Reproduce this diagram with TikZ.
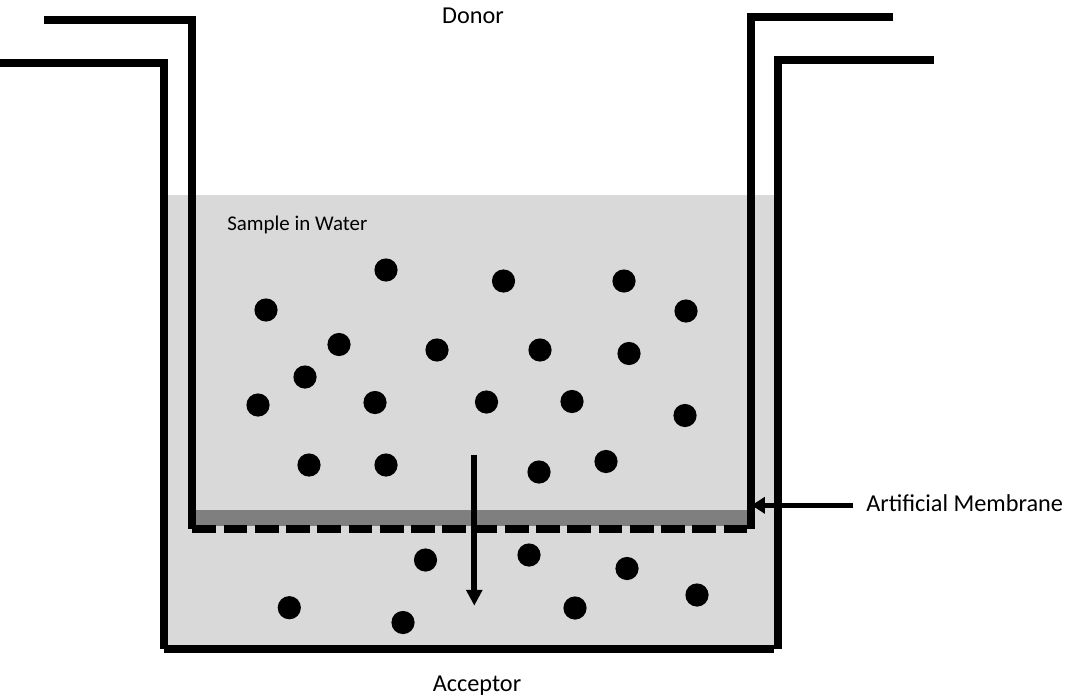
\documentclass[tikz,border=0pt]{standalone}
\usepackage{fontspec}
\setmainfont{Carlito}
\usepackage{tikz}
\usetikzlibrary{arrows.meta, positioning}
\definecolor{waterbg}{RGB}{217,217,217}
\definecolor{membranebg}{RGB}{127,127,127}
\tikzset{
  wallline/.style={
    draw=black, line width=6pt, line join=miter
  },
  poreline/.style={
    draw=black, line width=6pt,
    dash pattern=on 17.81pt off 5.63pt
  },
  particle/.style={
    circle, fill=black, minimum size=17.4pt, inner sep=0pt
  },
  fluxarrow/.style={
    -{Triangle[length=11.8pt,width=11.6pt]},
    draw=black, line width=4.4pt
  },
  leaderarrow/.style={
    -{Triangle[length=10pt,width=12pt]},
    draw=black, line width=4.2pt
  },
  celllabel/.style={
    font=\fontsize{18.2pt}{21pt}\selectfont, inner sep=0pt
  },
  samplelabel/.style={
    font=\fontsize{15.7pt}{19pt}\selectfont, inner sep=0pt
  },
}
\begin{document}
\begin{tikzpicture}[x=0.75pt, y=-0.75pt]
  \useasboundingbox (0,0) rectangle (1065,699);

  %% Liquid
  \fill[waterbg] (167.5,195) rectangle (773.7,645.3);
  \fill[membranebg] (196,510) rectangle (747.5,525.5);

  %% Particles in donor
  \node[particle] (d1) at (386,270) {};
  \node[particle] (d2) at (503.5,281) {};
  \node[particle] (d3) at (624,281) {};
  \node[particle] (d4) at (266,310) {};
  \node[particle] (d5) at (686,311) {};
  \node[particle] (d6) at (339,344.5) {};
  \node[particle] (d7) at (437,350) {};
  \node[particle] (d8) at (540,350) {};
  \node[particle] (d9) at (629,353.5) {};
  \node[particle] (d10) at (305,377) {};
  \node[particle] (d11) at (258,405) {};
  \node[particle] (d12) at (375,402.5) {};
  \node[particle] (d13) at (486.5,402) {};
  \node[particle] (d14) at (572,401.5) {};
  \node[particle] (d15) at (685,415.5) {};
  \node[particle] (d16) at (309,465) {};
  \node[particle] (d17) at (386,465) {};
  \node[particle] (d18) at (539,472) {};
  \node[particle] (d19) at (606,461.5) {};

  %% Particles in acceptor
  \node[particle] (a1) at (425.5,560) {};
  \node[particle] (a2) at (529,555) {};
  \node[particle] (a3) at (627,568.5) {};
  \node[particle] (a4) at (697,595) {};
  \node[particle] (a5) at (289.3,607.7) {};
  \node[particle] (a6) at (403,622.5) {};
  \node[particle] (a7) at (575,608) {};

  %% Acceptor well
  \draw[wallline] (0,63.5) -- (163.5,63.5) -- (163.5,649.3);
  \draw[wallline] (163.5,649.3) -- (773.7,649.3);
  \draw[wallline] (933.7,60.3) -- (777.7,60.3) -- (777.7,649.3);

  %% Donor well
  \draw[wallline] (43.7,19.7) -- (192.3,19.7) -- (192.3,529.3);
  \draw[wallline] (893,17) -- (751.3,17) -- (751.3,529.3);
  \draw[poreline] (192.3,529.3) -- (747.3,529.3);

  %% Labels
  \node[celllabel] (donor) at (473,15.5) {Donor};
  \node[celllabel] (acceptor) at (477,686) {Acceptor};
  \node[samplelabel, anchor=west] (sample) at (227,224.5) {Sample in Water};
  \node[celllabel, anchor=west] (membrane) at (866,503.5) {Artificial Membrane};

  %% Arrows
  \coordinate (fluxstart) at (474.3,454.7);
  \coordinate (fluxend) at (474.3,605.7);
  \coordinate (leadertip) at (751.5,505.3);
  \draw[fluxarrow] (fluxstart) -- (fluxend);
  \draw[leaderarrow, shorten <=9.75pt] (membrane.west |- leadertip) -- (leadertip);

\end{tikzpicture}
\end{document}
